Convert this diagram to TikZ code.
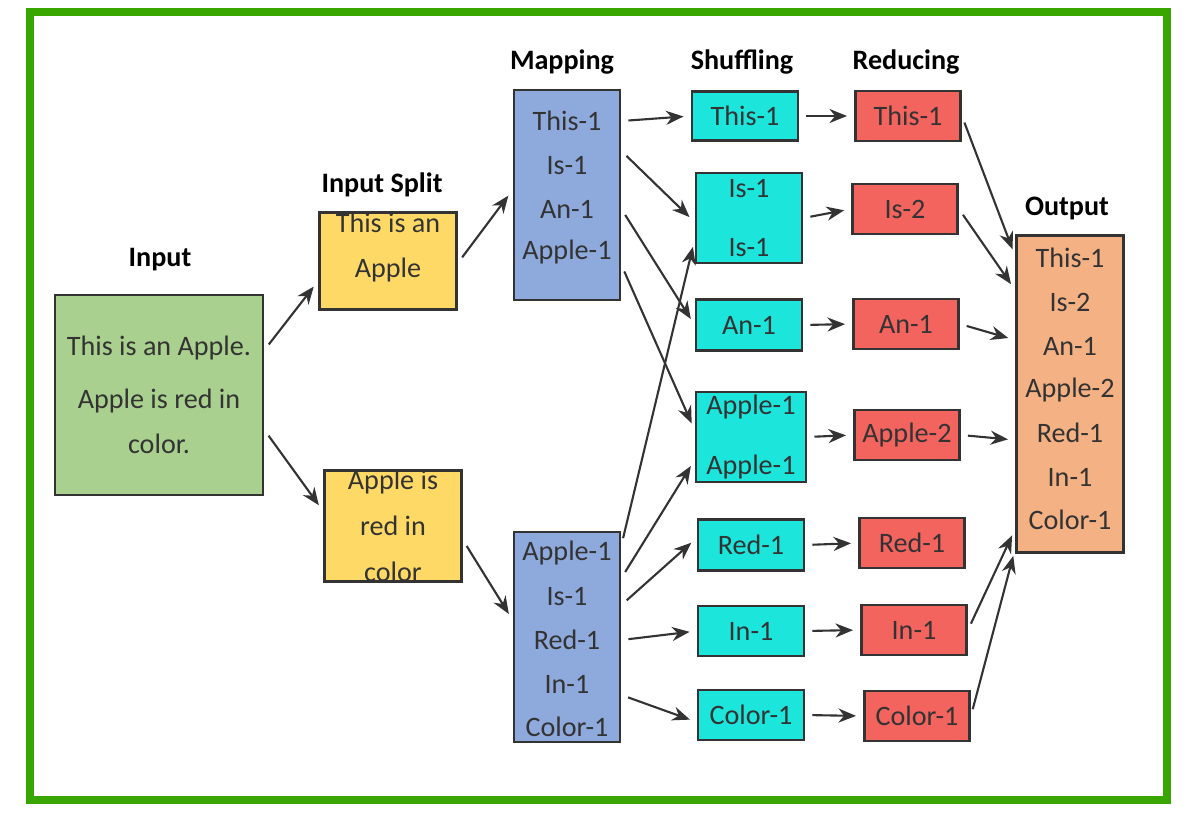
\documentclass[tikz,border=0pt]{standalone}
\usepackage{fontspec}
\setmainfont{Carlito}
\usetikzlibrary{arrows.meta,calc}
\definecolor{inpgreen}{HTML}{A9D08E}
\definecolor{splityellow}{HTML}{FFD966}
\definecolor{mapblue}{HTML}{8EA9DB}
\definecolor{shufcyan}{HTML}{1CE5DC}
\definecolor{redred}{HTML}{F4645F}
\definecolor{outorange}{HTML}{F4B183}
\definecolor{txt}{HTML}{333333}
\tikzset{
  box/.style={draw=black!80, thick, inner sep=0pt, text=txt, align=center,
    font=\fontsize{8}{13}\selectfont},
  word/.style={text=txt, font=\fontsize{8}{10}\selectfont},
  head/.style={font=\bfseries\fontsize{8}{10}\selectfont, text=black},
  arr/.style={-{Stealth[length=5pt,width=4pt]}, black!80, semithick, shorten <=2pt, shorten >=2pt}
}
\begin{document}
\begin{tikzpicture}[x=0.01cm,y=-0.01cm]
\useasboundingbox (0,0) rectangle (1200,821);
\draw[line width=2.5pt, green!50!black!70!lime] (30,12) rectangle (1167,800);

% column headings
\node[head] (hinput) at (160,260) {Input};
\node[head] (hsplit) at (382,185) {Input Split};
\node[head] (hmap) at (562,62) {Mapping};
\node[head] (hshuf) at (742,62) {Shuffling};
\node[head] (hred) at (906,62) {Reducing};
\node[head] (hout) at (1067,208) {Output};

% input and splits
\node[box, fill=inpgreen, minimum width=2.08cm, minimum height=2cm] (inp) at (159,395)
  {This is an Apple.\\[2pt] Apple is red in\\ color.};
\node[box, fill=splityellow, minimum width=1.37cm, minimum height=0.97cm] (sp1) at (388,261)
  {This is an\\ Apple\\[-4pt]};
\node[box, fill=splityellow, minimum width=1.37cm, minimum height=1.03cm] (sp2) at (393,526)
  {Apple is\\ red in\\ color};

% mapping
\node[box, fill=mapblue, minimum width=1.06cm, minimum height=2.1cm] (m1) at (567,195) {};
\foreach \n/\t/\y in {a/This-1/121, b/Is-1/166, c/An-1/209, d/Apple-1/252}
  \node[word] (m1\n) at (567,\y) {\t};
\node[box, fill=mapblue, minimum width=1.06cm, minimum height=2.1cm] (m2) at (567,637) {};
\foreach \n/\t/\y in {a/Apple-1/553, b/Is-1/597, c/Red-1/640, d/In-1/684, e/Color-1/727}
  \node[word] (m2\n) at (567,\y) {\t};

% shuffling
\tikzset{shuf/.style={box, fill=shufcyan, minimum width=1.06cm}}
\node[shuf, minimum height=0.49cm] (s1) at (745,116) {This-1};
\node[shuf, minimum height=0.9cm] (s2) at (749,218) {Is-1\\[4pt] Is-1};
\node[shuf, minimum height=0.51cm] (s3) at (749,325) {An-1};
\node[shuf, minimum height=0.9cm, minimum width=1.1cm] (s4) at (751,437) {Apple-1\\[4pt] Apple-1};
\node[shuf, minimum height=0.51cm] (s5) at (751,545) {Red-1};
\node[shuf, minimum height=0.5cm] (s6) at (751,631) {In-1};
\node[shuf, minimum height=0.5cm] (s7) at (751,715) {Color-1};

% reducing
\tikzset{red/.style={box, fill=redred, minimum width=1.05cm, minimum height=0.5cm}}
\node[red] (r1) at (908,116) {This-1};
\node[red] (r2) at (905,209) {Is-2};
\node[red] (r3) at (906,324) {An-1};
\node[red] (r4) at (907,435) {Apple-2};
\node[red] (r5) at (912,543) {Red-1};
\node[red] (r6) at (914,630) {In-1};
\node[red] (r7) at (917,716) {Color-1};

% output
\node[box, fill=outorange, minimum width=1.07cm, minimum height=3.17cm] (out) at (1070,394) {};
\foreach \n/\t/\y in {a/This-1/258, b/Is-2/302, c/An-1/346, d/Apple-2/390, e/Red-1/433, f/In-1/477, g/Color-1/520}
  \node[word] (o\n) at (1070,\y) {\t};

% input -> split -> map
\draw[arr] ($(inp.east)+(0,-45)$) -- ($(sp1.west)+(0,20)$);
\draw[arr] ($(inp.east)+(0,35)$) -- ($(sp2.west)+(0,-15)$);
\draw[arr] ($(sp1.east)+(0,2)$) -- ($(m1.west)+(0,-5)$);
\draw[arr] ($(sp2.east)+(0,14)$) -- ($(m2.west)+(0,-17)$);

% map -> shuffle
\draw[arr] (m1a -| m1.east) -- (s1.west);
\draw[arr] ($(m1b -| m1.east)+(0,-15)$) -- ($(s2.west)+(0,4)$);
\draw[arr] (m1c -| m1.east) -- (s3.west);
\draw[arr] ($(m1d -| m1.east)+(0,13)$) -- ($(s4.west)+(0,-7)$);
\draw[arr] ($(m2a -| m2.east)+(0,-8)$) -- ($(s2.west)+(0,22)$);
\draw[arr] ($(m2a -| m2.east)+(0,25)$) -- ($(s4.west)+(0,23)$);
\draw[arr] ($(m2b -| m2.east)+(0,8)$) -- ($(s5.west)+(0,-7)$);
\draw[arr] (m2c -| m2.east) -- (s6.west);
\draw[arr] ($(m2d -| m2.east)+(0,11)$) -- ($(s7.west)+(0,7)$);

% shuffle -> reduce
\foreach \i in {1,...,7}
  \draw[arr] (s\i.east) -- (r\i.west);

% reduce -> output
\draw[arr] (r1.east) -- ($(oa -| out.west)+(0,-2)$);
\draw[arr] (r2.east) -- ($(ob -| out.west)+(0,-12)$);
\draw[arr] (r3.east) -- ($(oc -| out.west)+(0,-6)$);
\draw[arr] (r4.east) -- ($(out.west)+(0,46)$);
\draw[arr] (r6.east) -- ($(out.south west)+(0,-25)$);
\draw[arr] (r7.east) -- ($(out.south west)+(0,-5)$);
\end{tikzpicture}
\end{document}
